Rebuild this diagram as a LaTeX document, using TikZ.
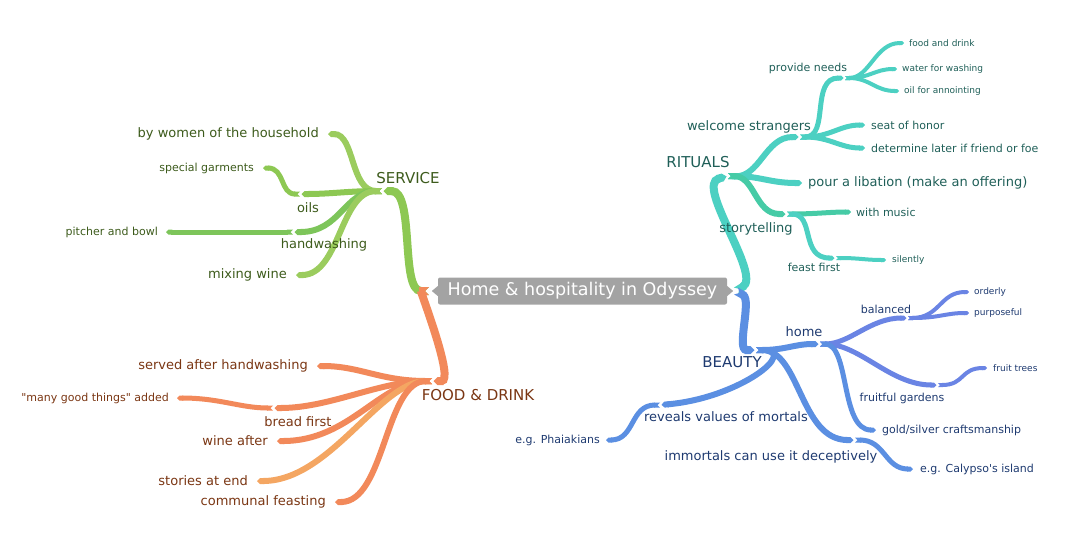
\documentclass[tikz,border=0pt]{standalone}
\usepackage{fontspec}
\setmainfont{DejaVu Sans}
\usetikzlibrary{positioning,arrows.meta}
\definecolor{hubgray}{HTML}{A3A3A3}
\definecolor{rittext}{HTML}{1F5F58}
\definecolor{beatext}{HTML}{1E3A70}
\definecolor{sertext}{HTML}{3D5B1C}
\definecolor{fdtext}{HTML}{7A3613}
\definecolor{rita}{HTML}{4CD0C2}
\definecolor{ritb}{HTML}{46CBA6}
\definecolor{beaa}{HTML}{5B8FE2}
\definecolor{beab}{HTML}{6A84E4}
\definecolor{sera}{HTML}{8DC853}
\definecolor{serb}{HTML}{7DC55A}
\definecolor{serc}{HTML}{9BCC5E}
\definecolor{fda}{HTML}{F2895A}
\definecolor{fdb}{HTML}{F4A662}

\begin{document}
\begin{tikzpicture}[x=1pt,y=-1pt,
    limb/.style={{Triangle Cap[reversed]}-{Triangle Cap}, shorten >=1.5pt},
    lone/.style={limb, line width=8pt},
    ltwo/.style={limb, line width=6pt},
    lthree/.style={limb, line width=5pt},
    lfour/.style={limb, line width=4pt},
    tone/.style={inner sep=0pt, font=\fontsize{15}{18}\selectfont},
    ttwo/.style={inner sep=0pt, font=\fontsize{13}{16}\selectfont},
    tthree/.style={inner sep=0pt, font=\fontsize{11}{13}\selectfont},
    tfour/.style={inner sep=0pt, font=\fontsize{9}{11}\selectfont},
    hub/.style={fill=hubgray, text=white, rounded corners=2pt, minimum width=289pt,
      minimum height=27pt, inner sep=0pt, font=\fontsize{17.5}{20}\selectfont}]
  \useasboundingbox (0,0) rectangle (1080,542);

  \coordinate (hubR) at (736,291);
  \coordinate (hubL) at (429,291);
  \coordinate (rit) at (728,176);
  \coordinate (wel) at (800,137);
  \coordinate (needs) at (845,78);
  \coordinate (food) at (905.5,43);
  \coordinate (water) at (898.5,69);
  \coordinate (oil) at (900.5,91);
  \coordinate (seat) at (866.5,125);
  \coordinate (foe) at (866.5,148);
  \coordinate (lib) at (803.5,183);
  \coordinate (story) at (787,214);
  \coordinate (music) at (852.5,212);
  \coordinate (feast) at (836,258);
  \coordinate (silent) at (887.5,260);
  \coordinate (beauty) at (756,350);
  \coordinate (home) at (820,344);
  \coordinate (bal) at (908,318);
  \coordinate (ord) at (970.5,292);
  \coordinate (pur) at (970.5,313);
  \coordinate (fru) at (938,385);
  \coordinate (trees) at (988.5,368);
  \coordinate (gold) at (877.5,430);
  \coordinate (rev) at (660,405);
  \coordinate (phai) at (604.5,440);
  \coordinate (imm) at (855,440);
  \coordinate (caly) at (914.5,469);
  \coordinate (serv) at (382,191);
  \coordinate (women) at (326.5,134);
  \coordinate (oils) at (300,194);
  \coordinate (garm) at (261.5,168);
  \coordinate (hand) at (293,232);
  \coordinate (pitch) at (164.5,232);
  \coordinate (mix) at (294.5,275);
  \coordinate (fd) at (432,381);
  \coordinate (served) at (315.5,366);
  \coordinate (bread) at (273,408);
  \coordinate (many) at (175.5,398);
  \coordinate (wine) at (275.5,441);
  \coordinate (stories) at (255.5,481);
  \coordinate (comm) at (333.5,502);

  \draw[lone, rita] (hubR) .. controls (762,275) and (695,185) .. (rit);
  \draw[ltwo, rita] (rit) .. controls (760,178) and (765,137) .. (wel);
  \draw[lthree, rita] (wel) .. controls (830,137) and (810,78) .. (needs);
  \draw[lfour, rita] (needs) .. controls (870,78) and (875,43) .. (food);
  \draw[lfour, rita] (needs) .. controls (870,78) and (875,69) .. (water);
  \draw[lfour, rita] (needs) .. controls (870,78) and (875,91) .. (oil);
  \draw[lthree, rita] (wel) .. controls (830,137) and (840,125) .. (seat);
  \draw[lthree, rita] (wel) .. controls (830,137) and (840,148) .. (foe);
  \draw[ltwo, rita] (rit) .. controls (760,176) and (770,183) .. (lib);
  \draw[ltwo, ritb] (rit) .. controls (755,176) and (755,214) .. (story);
  \draw[lthree, ritb] (story) .. controls (815,214) and (830,212) .. (music);
  \draw[lthree, rita] (story) .. controls (815,214) and (800,258) .. (feast);
  \draw[lfour, rita] (feast) .. controls (860,258) and (865,260) .. (silent);

  \draw[lone, beaa] (hubR) .. controls (752,300) and (736,350) .. (beauty);
  \draw[ltwo, beaa] (beauty) .. controls (785,350) and (795,344) .. (home);
  \draw[lthree, beab] (home) .. controls (850,344) and (870,318) .. (bal);
  \draw[lfour, beab] (bal) .. controls (940,318) and (940,292) .. (ord);
  \draw[lfour, beab] (bal) .. controls (940,318) and (945,313) .. (pur);
  \draw[lthree, beab] (home) .. controls (860,344) and (890,385) .. (fru);
  \draw[lfour, beab] (fru) .. controls (965,385) and (960,368) .. (trees);
  \draw[lthree, beaa] (home) .. controls (850,344) and (840,430) .. (gold);
  \draw[ltwo, beaa] (beauty) .. controls (800,350) and (740,398) .. (rev);
  \draw[lthree, beaa] (rev) .. controls (630,405) and (635,440) .. (phai);
  \draw[ltwo, beaa] (beauty) .. controls (800,350) and (800,440) .. (imm);
  \draw[lthree, beaa] (imm) .. controls (885,440) and (885,469) .. (caly);

  \draw[lone, sera] (hubL) .. controls (400,291) and (415,191) .. (serv);
  \draw[ltwo, serc] (serv) .. controls (350,191) and (355,134) .. (women);
  \draw[ltwo, sera] (serv) .. controls (350,191) and (330,194) .. (oils);
  \draw[lthree, sera] (oils) .. controls (280,194) and (285,168) .. (garm);
  \draw[ltwo, serb] (serv) .. controls (345,191) and (340,232) .. (hand);
  \draw[lthree, serb] (hand) -- (pitch);
  \draw[ltwo, serc] (serv) .. controls (340,191) and (340,275) .. (mix);

  \draw[lone, fda] (hubL) .. controls (420,291) and (455,381) .. (fd);
  \draw[ltwo, fda] (fd) .. controls (380,381) and (360,366) .. (served);
  \draw[ltwo, fda] (fd) .. controls (380,381) and (330,408) .. (bread);
  \draw[lthree, fda] (bread) .. controls (240,408) and (220,398) .. (many);
  \draw[ltwo, fda] (fd) .. controls (380,381) and (350,441) .. (wine);
  \draw[ltwo, fdb] (fd) .. controls (380,381) and (330,481) .. (stories);
  \draw[ltwo, fda] (fd) .. controls (385,381) and (385,502) .. (comm);

  \node[hub] (hubT) at (582.5,291) {Home \& hospitality in Odyssey};
  \fill[hubgray] (hubT.west) ++(0,-5) -- ++(-6,5) -- ++(6,5) -- cycle;
  \fill[hubgray] (hubT.east) ++(0,-5) -- ++(6,5) -- ++(-6,5) -- cycle;

  \node[tone, rittext] (ritT) at (698,162) {RITUALS};
  \node[ttwo, rittext] (welT) at (749,127) {welcome strangers};
  \node[tthree, rittext] (needsT) at (808,68) {provide needs};
  \node[tfour, rittext, right=3.5pt of food] (foodT) {food and drink};
  \node[tfour, rittext, right=3.5pt of water] (waterT) {water for washing};
  \node[tfour, rittext, right=3.5pt of oil] (oilT) {oil for annointing};
  \node[tthree, rittext, right=4.5pt of seat] (seatT) {seat of honor};
  \node[tthree, rittext, right=4.5pt of foe] (foeT) {determine later if friend or foe};
  \node[ttwo, rittext, right=4.5pt of lib] (libT) {pour a libation (make an offering)};
  \node[ttwo, rittext] (storyT) at (756,229) {storytelling};
  \node[tthree, rittext, right=3.5pt of music] (musicT) {with music};
  \node[tthree, rittext] (feastT) at (814,267) {feast first};
  \node[tfour, rittext, right=4.5pt of silent] (silentT) {silently};

  \node[tone, beatext] (beautyT) at (732,362) {BEAUTY};
  \node[ttwo, beatext] (homeT) at (804,332) {home};
  \node[tthree, beatext] (balT) at (886,309) {balanced};
  \node[tfour, beatext, right=3.5pt of ord] (ordT) {orderly};
  \node[tfour, beatext, right=3.5pt of pur] (purT) {purposeful};
  \node[tthree, beatext] (fruT) at (902,398) {fruitful gardens};
  \node[tfour, beatext, right=4.5pt of trees] (treesT) {fruit trees};
  \node[tthree, beatext, right=4.5pt of gold] (goldT) {gold/silver craftsmanship};
  \node[ttwo, beatext] (revT) at (726,417) {reveals values of mortals};
  \node[tthree, beatext, left=4.5pt of phai] (phaiT) {e.g. Phaiakians};
  \node[ttwo, beatext] (immT) at (771,457) {immortals can use it deceptively};
  \node[tthree, beatext, right=5.5pt of caly] (calyT) {e.g. Calypso\textquotesingle s island};

  \node[tone, sertext] (servT) at (408,178) {SERVICE};
  \node[ttwo, sertext, left=7.5pt of women] (womenT) {by women of the household};
  \node[ttwo, sertext] (oilsT) at (308,208) {oils};
  \node[tthree, sertext, left=7.5pt of garm] (garmT) {special garments};
  \node[ttwo, sertext] (handT) at (324,245) {handwashing};
  \node[tthree, sertext, left=6.5pt of pitch] (pitchT) {pitcher and bowl};
  \node[ttwo, sertext, left=7.5pt of mix] (mixT) {mixing wine};

  \node[tone, fdtext] (fdT) at (478,395) {FOOD \& DRINK};
  \node[ttwo, fdtext, left=7.5pt of served] (servedT) {served after handwashing};
  \node[ttwo, fdtext] (breadT) at (298,422) {bread first};
  \node[tthree, fdtext, left=6.5pt of many] (manyT) {\textquotedbl many good things\textquotedbl{} added};
  \node[ttwo, fdtext, left=7.5pt of wine] (wineT) {wine after};
  \node[ttwo, fdtext, left=7.5pt of stories] (storiesT) {stories at end};
  \node[ttwo, fdtext, left=7.5pt of comm] (commT) {communal feasting};
\end{tikzpicture}
\end{document}
